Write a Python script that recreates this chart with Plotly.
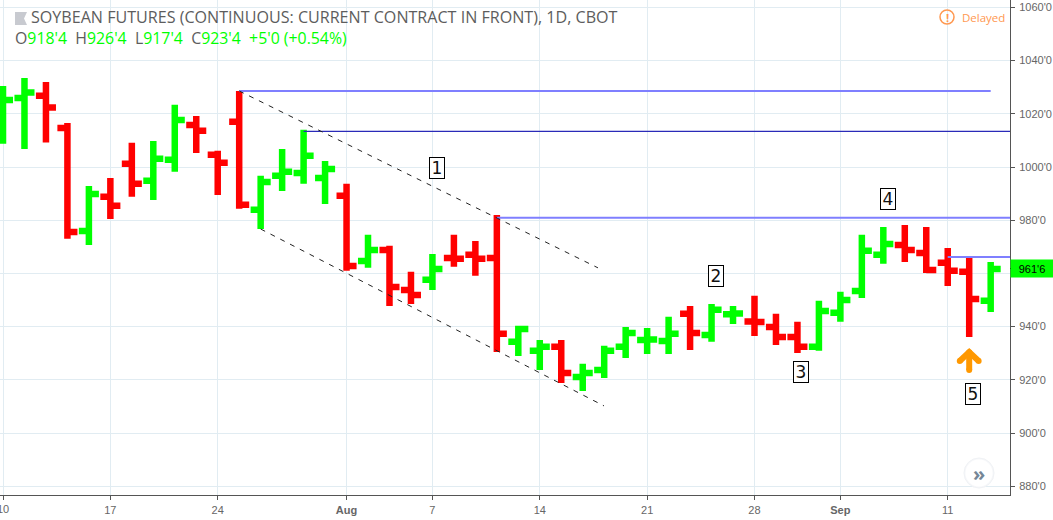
import plotly.graph_objects as go

# Daily bars (bar index 0 = 10 Jul)
bar_index = list(range(47))
opens = [1024.1,1026,1026.8,1014.7,976,988.8,1001.2,994.8,1002.7,1015.8,1004.6,1017,983.9,
         996.7,997.8,995.9,989.2,964.7,968.8,953.8,957.6,965.8,967,965.8,934.3,930.9,932.4,
         921.1,923.7,932.4,935,934.6,944.8,936.9,944.7,941.9,939.9,936.1,932.4,945.2,953.4,
         967,970.7,967.7,964,960.6,949.7]
highs = [1030.5,1033.5,1032,1016.6,992.9,995.9,1009.1,1009.8,1023.4,1019.2,1006.1,1028.6,996.7,
         1006.8,1014,1002.3,993.7,974.5,970.4,960.6,967.3,974.5,972.2,982,940.3,935,935,
         926,932.8,939.9,939.5,943.7,947.8,948.5,947.8,951.6,944.8,941.8,949.7,953.1,974.5,
         977.5,978.2,977.5,969.6,966.6,964.3]
lows = [1008.8,1006.8,1009.2,973,970.7,980.5,988.8,987.6,998.2,1005.3,989.5,984.3,976.7,
        991,993.7,986.1,961,962.1,947.8,948.5,953.8,962.5,959.1,930.5,929,923.7,918.8,
        915.8,920.7,928.2,929.7,929.7,931.2,934.3,941,936.5,933.1,930.1,930.9,941.8,950.8,
        963.6,964.3,960.2,955.3,936.1,945.5]
closes = [1025.2,1028,1022.4,975.6,989.9,985.4,993.7,1003.1,1017.7,1013.6,1001.6,985.8,994.4,
          998.2,1004.2,999.3,962.8,968.8,954.9,951.9,961.7,965.5,965.5,937.3,939.1,932.4,922.6,
          922.6,930.9,937.6,935.2,937.3,937.6,946.3,944.9,941.7,936.1,932.4,945.9,950,968.5,
          971.1,968.8,961.3,961,950.4,961.7]

x_tick_vals = [0, 5, 10, 16, 20, 25, 30, 35, 39, 44]
x_tick_text = ["10", "17", "24", "<b>Aug</b>", "7", "14", "21", "28", "<b>Sep</b>", "11"]
y_tick_vals = [880, 900, 920, 940, 960, 980, 1000, 1020, 1040, 1060]
y_tick_text = ["880'0", "900'0", "920'0", "940'0", "960'0", "980'0", "1000'0", "1020'0", "1040'0", "1060'0"]

# Drawn levels and channel
level_a_x, level_a_y = [11, 46], [1028.6, 1028.6]
level_b_x, level_b_y = [14, 46.9], [1013.4, 1013.4]
level_c_x, level_c_y = [23, 46.9], [980.9, 980.9]
level_d_x, level_d_y = [44, 46.9], [966.2, 966.2]
upper_x, upper_y = [11, 27.71], [1028.6, 962.1]
lower_x, lower_y = [12, 27.99], [976.7, 910.2]
wave_labels = ["1", "2", "3", "4", "5"]
wave_x = [20.2, 33.21, 37.17, 41.2, 45.17]
wave_y = [999.7, 959, 923, 988, 914.7]
arrow_x = [45, 45]
arrow_y = [923.7, 930.1]
arrow_head_x = [44.56, 45, 45.44]
arrow_head_y = [927.1, 930.4, 927.1]

W, H = 1053, 520
PW, PH = 1010, 495
BLUE = "#7f7fff"
FONT = "Open Sans"


def px(x):
    return x / PW


def py(y):
    return 1 - y / PH


fig = go.Figure()
for xs, ys, col, w in [(level_a_x, level_a_y, BLUE, 2), (level_b_x, level_b_y, "#2a2ab8", 1.2),
                       (level_c_x, level_c_y, BLUE, 2), (level_d_x, level_d_y, BLUE, 2)]:
    fig.add_trace(go.Scatter(x=xs, y=ys, mode="lines", line=dict(color=col, width=w),
                             hoverinfo="skip", showlegend=False))
for xs, ys in [(upper_x, upper_y), (lower_x, lower_y)]:
    fig.add_trace(go.Scatter(x=xs, y=ys, mode="lines",
                             line=dict(color="#222222", width=1, dash="5px,6px"),
                             hoverinfo="skip", showlegend=False))
fig.add_trace(go.Ohlc(x=bar_index, open=opens, high=highs, low=lows, close=closes,
                      tickwidth=0.467,
                      increasing=dict(line=dict(color="#00ff00", width=6.5)),
                      decreasing=dict(line=dict(color="#ff0000", width=6.5)),
                      showlegend=False))
ORANGE = "#ff9800"
fig.add_trace(go.Scatter(x=arrow_x, y=arrow_y, mode="lines+markers",
                         line=dict(color=ORANGE, width=6), marker=dict(color=ORANGE, size=6),
                         hoverinfo="skip", showlegend=False))
fig.add_trace(go.Scatter(x=arrow_head_x, y=arrow_head_y, mode="lines+markers",
                         line=dict(color=ORANGE, width=6), marker=dict(color=ORANGE, size=6),
                         hoverinfo="skip", showlegend=False))

annotations = []
for t, xv, yv in zip(wave_labels, wave_x, wave_y):
    annotations.append(dict(x=xv, y=yv, xref="x", yref="y", text=t, showarrow=False,
                            font=dict(family="DejaVu Sans", size=17, color="#111111"),
                            bgcolor="white", bordercolor="#000000", borderwidth=1,
                            width=14, height=20, borderpad=0, align="center", valign="middle"))

annotations.append(dict(x=px(29), y=py(17), xref="paper", yref="paper", xanchor="left", yanchor="middle",
                        text="SOYBEAN FUTURES (CONTINUOUS: CURRENT CONTRACT IN FRONT), 1D, CBOT",
                        showarrow=False, font=dict(family=FONT, size=16.1, color="#5d5d5d")))
annotations.append(dict(x=px(13), y=py(38), xref="paper", yref="paper", xanchor="left", yanchor="middle",
                        text=("O<span style='color:#00ff00'>918'4</span>&nbsp;&nbsp;H<span style='color:#00ff00'>926'4</span>"
                              "&nbsp;&nbsp;L<span style='color:#00ff00'>917'4</span>&nbsp;&nbsp;C<span style='color:#00ff00'>923'4</span>"
                              "&nbsp;&nbsp;<span style='color:#00ff00'>+5'0 (+0.54%)</span>"),
                        showarrow=False, font=dict(family=FONT, size=15.85, color="#5d5d5d")))
annotations.append(dict(x=px(960), y=py(17), xref="paper", yref="paper", xanchor="left", yanchor="middle",
                        text="Delayed", showarrow=False, font=dict(family=FONT, size=11.5, color="#ff9850")))
annotations.append(dict(x=px(947), y=py(17), xref="paper", yref="paper", xanchor="center", yanchor="middle",
                        text="<b>!</b>", showarrow=False, font=dict(family=FONT, size=11, color="#ff9850")))
annotations.append(dict(x=px(1010), y=py(268.5), xref="paper", yref="paper", xanchor="left", yanchor="middle",
                        text="961'6", showarrow=False, font=dict(family="Liberation Sans", size=11, color="#000000"),
                        bgcolor="#00ff00", width=42, height=17, borderpad=0, align="center"))
annotations.append(dict(x=px(979), y=py(473), xref="paper", yref="paper", xanchor="center", yanchor="middle",
                        text="<b>»</b>", showarrow=False, font=dict(family=FONT, size=20, color="#758696")))
# The first date label sits half off the window edge, which axis labels are not allowed to do
annotations.append(dict(x=x_tick_vals[0], y=py(509), xref="x", yref="paper", xanchor="center", yanchor="middle",
                        text=x_tick_text[0], showarrow=False,
                        font=dict(family="Liberation Sans", size=11, color="#666666")))

shapes = [
    dict(type="path", xref="paper", yref="paper", line=dict(width=0), fillcolor="#c8cad0",
         path=f"M {px(15)} {py(12)} L {px(27)} {py(12)} L {px(24)} {py(18.5)} L {px(27)} {py(25)} L {px(15)} {py(25)} Z"),
    dict(type="circle", xref="paper", yref="paper", x0=px(940), x1=px(954), y0=py(24), y1=py(10),
         line=dict(color="#ff9850", width=1.5), fillcolor="rgba(0,0,0,0)"),
    dict(type="circle", xref="paper", yref="paper", x0=px(964), x1=px(994), y0=py(488), y1=py(458),
         line=dict(color="#f0f2f5", width=1), fillcolor="#f7f8fa"),
    dict(type="circle", xref="paper", yref="paper", x0=px(965.5), x1=px(992.5), y0=py(486.5), y1=py(459.5),
         line=dict(width=0), fillcolor="#ffffff"),
    dict(type="line", xref="paper", yref="paper", x0=px(1010), x1=px(1014), y0=py(268.5), y1=py(268.5),
         line=dict(color="#000000", width=1)),
]

fig.update_layout(
    width=W, height=H, autosize=False,
    margin=dict(l=0, r=W - PW, t=0, b=H - PH),
    paper_bgcolor="white", plot_bgcolor="white",
    annotations=annotations, shapes=shapes, showlegend=False,
    xaxis=dict(range=[-0.14, 46.9], tickmode="array", tickvals=x_tick_vals, ticktext=x_tick_text,
               rangeslider=dict(visible=False), showgrid=True, gridcolor="#e1ecf2", gridwidth=1,
               showline=True, linecolor="#555555", linewidth=1, ticks="outside", ticklen=4,
               tickcolor="#555555", tickfont=dict(family="Liberation Sans", size=11, color="#666666"),
               ticklabelstandoff=1, zeroline=False),
    yaxis=dict(range=[876.7, 1062.8], side="right", tickmode="array", tickvals=y_tick_vals,
               ticktext=y_tick_text, showgrid=True, gridcolor="#e1ecf2", gridwidth=1,
               showline=True, linecolor="#555555", linewidth=1, ticks="outside", ticklen=4,
               tickcolor="#555555", tickfont=dict(family="Liberation Sans", size=11, color="#666666"),
               ticklabelstandoff=2, zeroline=False),
)
fig.write_html("out.html", post_script="document.body.style.margin='0';",
               config=dict(displayModeBar=False))
